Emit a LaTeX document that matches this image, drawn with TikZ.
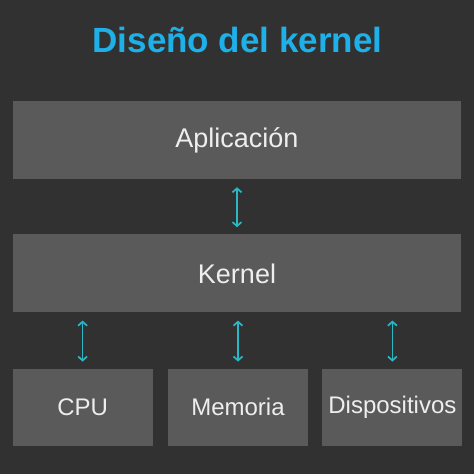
\documentclass[tikz,border=0pt]{standalone}
\usepackage{fontspec}
\setmainfont{Liberation Sans}
\usepackage{xcolor}
\usetikzlibrary{arrows.meta, positioning}

\definecolor{bgdark}{HTML}{313131}
\definecolor{boxgray}{HTML}{5A5A5A}
\definecolor{titlecyan}{HTML}{1EB0E8}
\definecolor{linkcyan}{HTML}{2BB8C6}
\definecolor{textwhite}{HTML}{EEEEEE}

\tikzset{
  layer/.style={fill=boxgray, draw=none, minimum width=448pt, minimum height=78pt,
    inner sep=0pt, font=\fontsize{27}{30}\selectfont, text=textwhite},
  unit/.style={fill=boxgray, draw=none, minimum width=140pt, minimum height=77pt,
    inner sep=0pt, font=\fontsize{24}{28}\selectfont, text=textwhite},
  link/.style={draw=linkcyan, line width=1.7pt,
    {Straight Barb[length=4pt,width=9pt]}-{Straight Barb[length=4pt,width=9pt]},
    shorten >=7pt, shorten <=8pt}
}

\begin{document}
\begin{tikzpicture}[x=1pt, y=1pt]
  \fill[bgdark] (0,0) rectangle (474,-474);
  \useasboundingbox (0,0) rectangle (474,-474);

  % Title
  \node[font=\bfseries\fontsize{35}{40}\selectfont, text=titlecyan] (title) at (237.5,-40) {Diseño del kernel};

  % Layers
  \node[layer] (app) at (237,-140) {Aplicación};
  \node[layer, below=55pt of app] (kernel) {Kernel};

  % Hardware
  \node[unit, below=56pt of kernel, xshift=1pt] (mem) {Memoria};
  \node[unit, left=15pt of mem] (cpu) {CPU};
  \node[unit, right=14pt of mem] (dev) {Dispositivos};

  % Links
  \draw[link] (app) -- (kernel);
  \draw[link] (kernel.south -| cpu) -- (cpu);
  \draw[link] (kernel.south -| mem) -- (mem);
  \draw[link] (kernel.south -| dev) -- (dev);
\end{tikzpicture}
\end{document}
